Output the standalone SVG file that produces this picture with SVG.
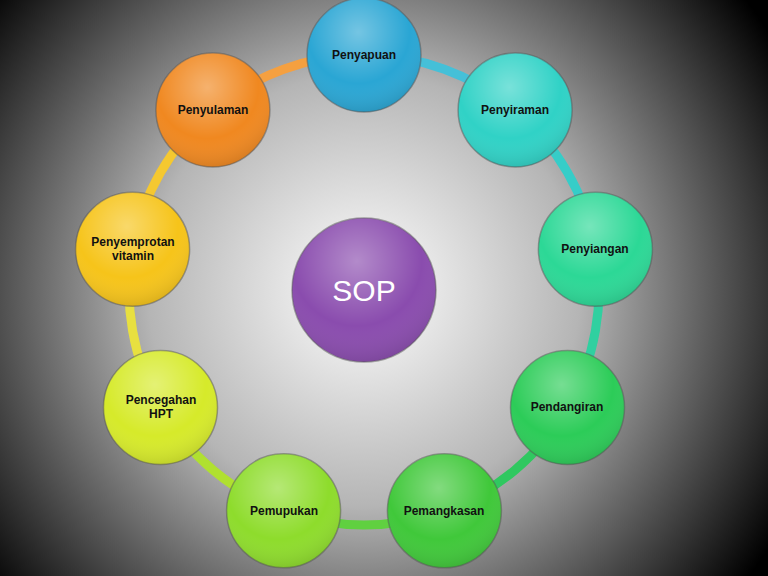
<svg xmlns="http://www.w3.org/2000/svg" width="768" height="576" viewBox="0 0 768 576">
<defs>
<radialGradient id="bg" cx="364" cy="290" r="480" gradientUnits="userSpaceOnUse">
<stop offset="0" stop-color="#ffffff"/><stop offset="0.45" stop-color="#b5b5b5"/><stop offset="1" stop-color="#000"/>
</radialGradient>
<radialGradient id="hl" cx="0.45" cy="0.3" r="0.75">
<stop offset="0" stop-color="#fff" stop-opacity="0.35"/><stop offset="0.6" stop-color="#fff" stop-opacity="0"/><stop offset="1" stop-color="#000" stop-opacity="0.15"/>
</radialGradient>
</defs>
<style>
.n{stroke:#555;stroke-opacity:0.5;stroke-width:1.5}
.t{font-family:"Liberation Sans",Arial,sans-serif;font-weight:bold;font-size:12px;fill:#111;text-anchor:middle}
.r{fill:none;stroke-width:9}
</style>
<rect width="768" height="576" fill="url(#bg)"/>
<g id="connectors">
<path class="r" stroke="#45c0d8" d="M364,55 A235,235 0 0 1 515.1,110"/>
<path class="r" stroke="#36cdc8" d="M515.1,110 A235,235 0 0 1 595.4,249.2"/>
<path class="r" stroke="#30d0a0" d="M595.4,249.2 A235,235 0 0 1 567.5,407.5"/>
<path class="r" stroke="#30c860" d="M567.5,407.5 A235,235 0 0 1 444.4,510.8"/>
<path class="r" stroke="#60d040" d="M444.4,510.8 A235,235 0 0 1 283.6,510.8"/>
<path class="r" stroke="#b0e030" d="M283.6,510.8 A235,235 0 0 1 160.5,407.5"/>
<path class="r" stroke="#e8e040" d="M160.5,407.5 A235,235 0 0 1 132.6,249.2"/>
<path class="r" stroke="#f5c830" d="M132.6,249.2 A235,235 0 0 1 212.9,110"/>
<path class="r" stroke="#f5a040" d="M212.9,110 A235,235 0 0 1 364,55"/>
</g>
<g id="sop"><circle class="n" cx="364" cy="290" r="72" fill="#8a4cae"/><circle cx="364" cy="290" r="72" fill="url(#hl)"/>
<text x="364" y="301" font-family="Liberation Sans,Arial,sans-serif" font-size="30" fill="#fff" text-anchor="middle">SOP</text></g>
<g id="penyapuan"><circle class="n" cx="364" cy="55" r="57" fill="#2aa6d4"/><circle cx="364" cy="55" r="57" fill="url(#hl)"/><text class="t" x="364" y="59">Penyapuan</text></g>
<g id="penyiraman"><circle class="n" cx="515.1" cy="110" r="57" fill="#30d2c6"/><circle cx="515.1" cy="110" r="57" fill="url(#hl)"/><text class="t" x="515" y="114">Penyiraman</text></g>
<g id="penyiangan"><circle class="n" cx="595.4" cy="249.2" r="57" fill="#2cd896"/><circle cx="595.4" cy="249.2" r="57" fill="url(#hl)"/><text class="t" x="595" y="253">Penyiangan</text></g>
<g id="pendangiran"><circle class="n" cx="567.5" cy="407.5" r="57" fill="#2ccc58"/><circle cx="567.5" cy="407.5" r="57" fill="url(#hl)"/><text class="t" x="567" y="411">Pendangiran</text></g>
<g id="pemangkasan"><circle class="n" cx="444.4" cy="510.8" r="57" fill="#40c83a"/><circle cx="444.4" cy="510.8" r="57" fill="url(#hl)"/><text class="t" x="444" y="515">Pemangkasan</text></g>
<g id="pemupukan"><circle class="n" cx="283.6" cy="510.8" r="57" fill="#8edc2c"/><circle cx="283.6" cy="510.8" r="57" fill="url(#hl)"/><text class="t" x="284" y="515">Pemupukan</text></g>
<g id="pencegahan"><circle class="n" cx="160.5" cy="407.5" r="57" fill="#d6ea2a"/><circle cx="160.5" cy="407.5" r="57" fill="url(#hl)"/><text class="t" x="161" y="404">Pencegahan</text><text class="t" x="161" y="418">HPT</text></g>
<g id="penyemprotan"><circle class="n" cx="132.6" cy="249.2" r="57" fill="#f6c41a"/><circle cx="132.6" cy="249.2" r="57" fill="url(#hl)"/><text class="t" x="133" y="246">Penyemprotan</text><text class="t" x="133" y="260">vitamin</text></g>
<g id="penyulaman"><circle class="n" cx="212.9" cy="110" r="57" fill="#f08820"/><circle cx="212.9" cy="110" r="57" fill="url(#hl)"/><text class="t" x="213" y="114">Penyulaman</text></g>
</svg>
